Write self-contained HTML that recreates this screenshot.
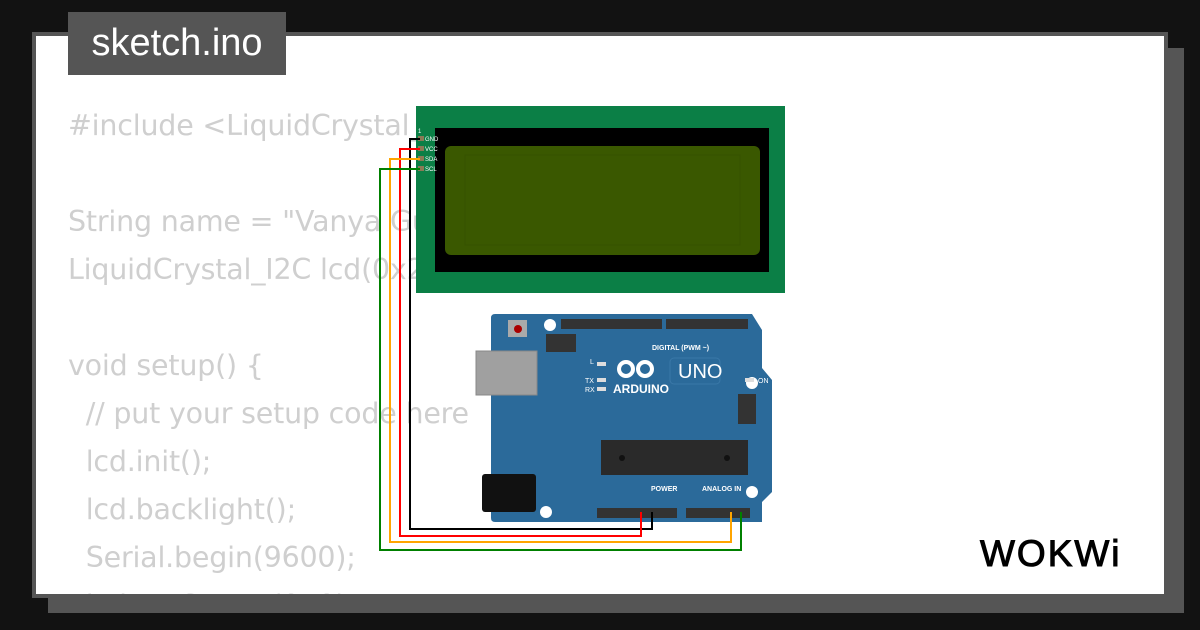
<!DOCTYPE html>
<html><head><meta charset="utf-8"><style>
html,body{margin:0;padding:0;background:#121212;width:1200px;height:630px;overflow:hidden;position:relative;font-family:"DejaVu Sans","Liberation Sans",sans-serif}
.shadow{position:absolute;left:48px;top:48px;width:1136px;height:565px;background:#555}
.panel{position:absolute;left:32px;top:32px;width:1128px;height:558px;border:4px solid #555;background:#fff;overflow:hidden}
.code{position:absolute;left:32px;top:66px;color:#cfcfcf;font-size:28.5px;line-height:48px;white-space:pre;letter-spacing:-0.2px}
.tag{position:absolute;left:68px;top:12px;width:218px;height:63px;background:#555;color:#fff;font-family:"Liberation Sans",sans-serif;font-size:38px;line-height:63px;text-align:center}
svg{position:absolute;left:0;top:0}
</style></head><body>
<div class="shadow"></div>
<div class="panel"><div class="code">#include &lt;LiquidCrystal_I2C.h&gt;

String name = "Vanya Gupta";
LiquidCrystal_I2C lcd(0x27,16,2);

void setup() {
  // put your setup code here
  lcd.init();
  lcd.backlight();
  Serial.begin(9600);
  lcd.setCursor(0, 0);</div></div>
<div class="tag">sketch.ino</div>
<svg width="1200" height="630" viewBox="0 0 1200 630">
<!-- LCD -->
<rect x="416" y="106" width="369" height="187" fill="#0b7f46"/>
<rect x="435" y="128" width="334" height="144" fill="#000"/>
<rect x="445" y="146" width="315" height="109" rx="6" fill="#3a5800"/>
<rect x="465" y="155" width="275" height="90" fill="none" stroke="#355200" stroke-width="1"/>
<g fill="#8a7a55"><rect x="418" y="136" width="6" height="5"/><rect x="418" y="146" width="6" height="5"/><rect x="418" y="156" width="6" height="5"/><rect x="418" y="166" width="6" height="5"/></g>
<g fill="#fff" font-size="6" font-family="Liberation Sans"><text x="418" y="133">1</text><text x="425" y="141">GND</text><text x="425" y="151">VCC</text><text x="425" y="161">SDA</text><text x="425" y="171">SCL</text></g>
<!-- Arduino -->
<path d="M495 314 H752 L762 330 V368 L772 380 V492 L762 502 V522 H495 Q491 522 491 518 V318 Q491 314 495 314Z" fill="#2b6a9a"/>
<circle cx="550" cy="325" r="6" fill="#fff"/><circle cx="752" cy="383" r="6" fill="#fff"/><circle cx="752" cy="492" r="6" fill="#fff"/><circle cx="546" cy="512" r="6" fill="#fff"/>
<rect x="476" y="351" width="61" height="44" fill="#a0a0a0" stroke="#888"/>
<rect x="482" y="474" width="54" height="38" rx="3" fill="#111"/>
<rect x="508" y="320" width="19" height="17" fill="#aaa"/><circle cx="518" cy="329" r="4" fill="#a00"/>
<rect x="561" y="319" width="101" height="10" fill="#333"/><rect x="666" y="319" width="82" height="10" fill="#333"/>
<rect x="546" y="334" width="30" height="18" fill="#333"/>
<rect x="738" y="394" width="18" height="30" fill="#333"/>
<rect x="601" y="440" width="147" height="35" fill="#2a2a2a"/>
<circle cx="622" cy="458" r="3" fill="#111"/><circle cx="727" cy="458" r="3" fill="#111"/>
<rect x="597" y="508" width="80" height="10" fill="#333"/><rect x="686" y="508" width="64" height="10" fill="#333"/>
<rect x="670" y="358" width="50" height="26" rx="4" fill="none" stroke="#3a78a8"/>
<g fill="#fff" font-family="Liberation Sans" font-weight="bold">
<text x="613" y="393" font-size="12">ARDUINO</text>
<text x="678" y="378" font-size="20" font-weight="normal">UNO</text>
<text x="652" y="350" font-size="7">DIGITAL (PWM ~)</text>
<text x="651" y="491" font-size="7">POWER</text><text x="702" y="491" font-size="7">ANALOG IN</text>
<text x="758" y="383" font-size="7" font-weight="normal">ON</text>
<text x="585" y="383" font-size="7" font-weight="normal">TX</text><text x="585" y="392" font-size="7" font-weight="normal">RX</text><text x="590" y="364" font-size="7" font-weight="normal">L</text>
</g>
<g fill="none" stroke="#fff" stroke-width="4"><circle cx="626" cy="369" r="7"/><circle cx="645" cy="369" r="7"/></g>
<g fill="#ddd"><rect x="597" y="362" width="9" height="4"/><rect x="597" y="378" width="9" height="4"/><rect x="597" y="387" width="9" height="4"/><rect x="745" y="378" width="9" height="4"/></g>
<!-- wires -->
<g fill="none" stroke-width="2">
<path d="M420 139 H410 V529 H652 V512" stroke="#000"/>
<path d="M420 149 H400 V536 H641 V512" stroke="#f00"/>
<path d="M420 159 H390 V542 H731 V512" stroke="#ffa500"/>
<path d="M420 169 H380 V550 H741 V512" stroke="#008000"/>
</g>
<text x="980" y="566" font-size="37" font-family="Liberation Sans" fill="#000" stroke="#000" stroke-width="1" letter-spacing="2">WOKWi</text>
</svg>
</body></html>
